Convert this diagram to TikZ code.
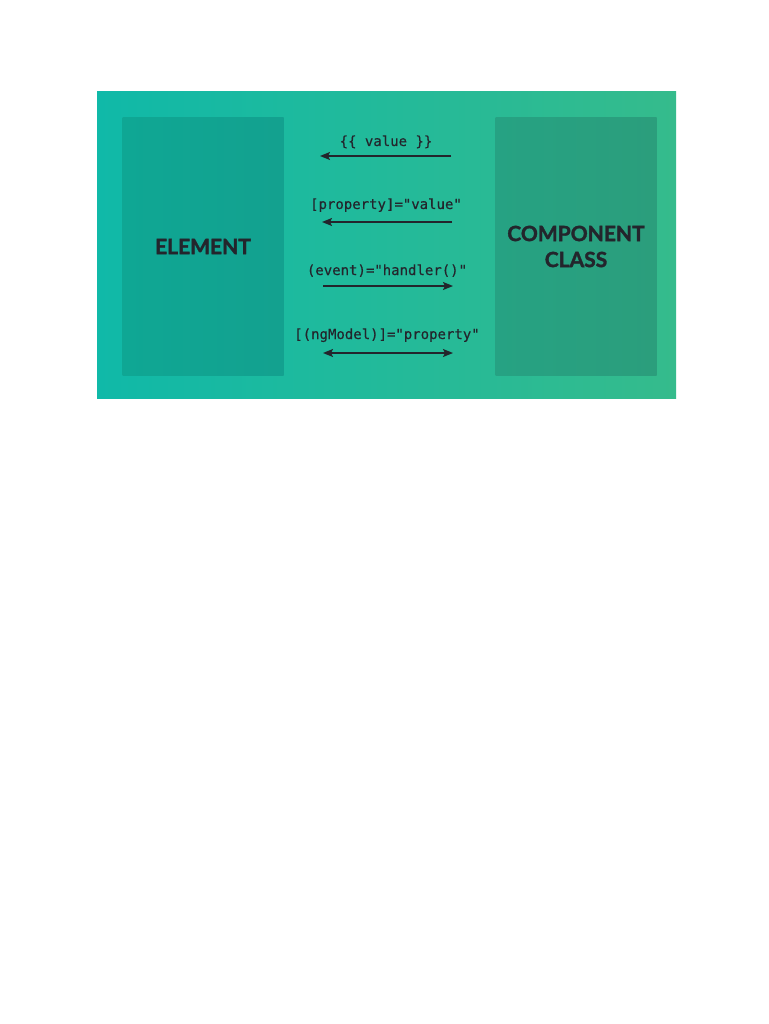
\documentclass[tikz,border=0pt]{standalone}
\usepackage{fontspec}
\setmonofont[FakeBold=0.4]{DejaVu Sans Mono}
\newfontfamily\latofont[FakeBold=1.6]{Lato}
\usetikzlibrary{arrows.meta}
\definecolor{bgleft}{HTML}{10B9A8}
\definecolor{bgright}{HTML}{35BB8C}
\definecolor{elemleft}{HTML}{0FA794}
\definecolor{elemright}{HTML}{13A18F}
\definecolor{compleft}{HTML}{26A283}
\definecolor{compright}{HTML}{2B9E7C}
\definecolor{inkdark}{HTML}{23252C}
\begin{document}
\begin{tikzpicture}[x=1pt,y=-1pt,>={Stealth[length=10pt,width=8pt,inset=2pt]},
    panel/.style={minimum width=161pt,minimum height=257pt,inner sep=0pt,align=center,
      font=\latofont\bfseries\fontsize{21}{26}\selectfont,text=inkdark},
    bindlabel/.style={font=\ttfamily\fontsize{14}{16}\selectfont,text=inkdark,anchor=base},
    bind/.style={line width=1.4pt,draw=inkdark}]
\useasboundingbox[fill=white] (0,0) rectangle (768,1024);
\shade[left color=bgleft,right color=bgright] (97,92) rectangle (676,398);
\node[panel,left color=elemleft,right color=elemright] (element) at (203,246.5) {ELEMENT};
\node[panel,left color=compleft,right color=compright] (component) at (576,246.5) {COMPONENT\\CLASS};
% bindings
\node[bindlabel] (interp) at (386,146) {\{\{ value \}\}};
\node[bindlabel] (propbind) at (386,209) {[property]="value"};
\node[bindlabel] (eventbind) at (387,275) {(event)="handler()"};
\node[bindlabel] (twoway) at (387,339) {[(ngModel)]="property"};
\coordinate (interpR) at (451,156);   \coordinate (interpL) at (320,156);
\coordinate (propR) at (452,222);     \coordinate (propL) at (322,222);
\coordinate (eventL) at (323,286);    \coordinate (eventR) at (453,286);
\coordinate (twowayL) at (323,353);   \coordinate (twowayR) at (453,353);
\draw[bind,->] (interpR) -- (interpL);
\draw[bind,->] (propR) -- (propL);
\draw[bind,->] (eventL) -- (eventR);
\draw[bind,<->] (twowayL) -- (twowayR);
\end{tikzpicture}
\end{document}
